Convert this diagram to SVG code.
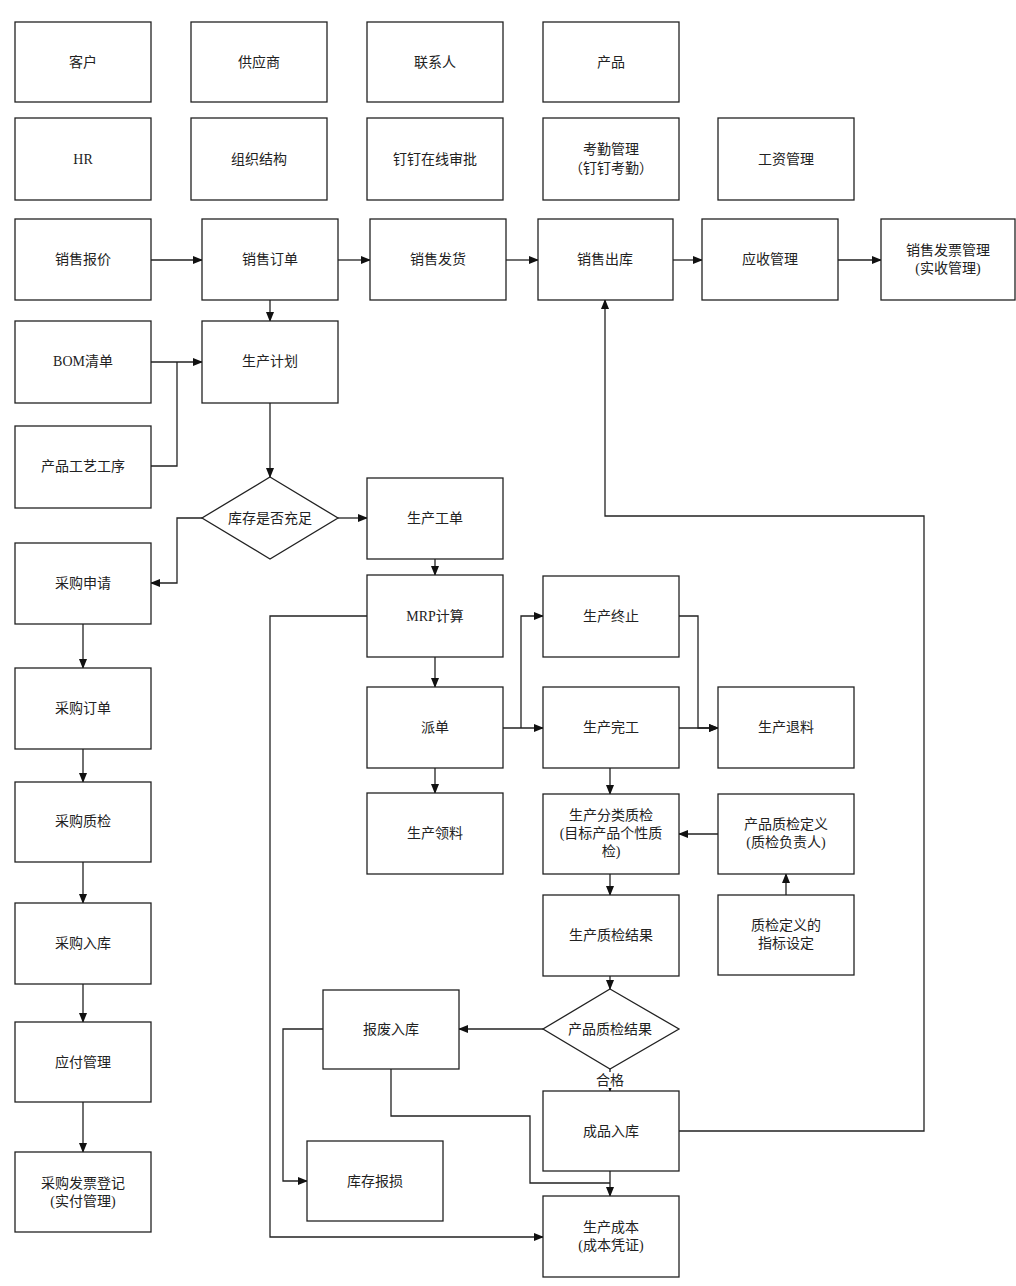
<svg xmlns="http://www.w3.org/2000/svg" width="1016" height="1286" viewBox="0 0 1016 1286">
<defs>
<marker id="a" markerWidth="10" markerHeight="8" refX="9" refY="4" orient="auto" markerUnits="userSpaceOnUse"><path d="M0,0 L10,4 L0,8 Z" fill="#111"/></marker>
<style>
rect,polygon{fill:#fff;stroke:#222;stroke-width:1.3}
text{font-family:"Liberation Serif","Noto Sans CJK SC",serif;font-size:14px;fill:#222;text-anchor:middle}
#c path{fill:none;stroke:#222;stroke-width:1.3}
.m{marker-end:url(#a)}
</style>
</defs>
<rect width="1016" height="1286" style="fill:#fff;stroke:none"/>
<g id="c">
<path class="m" d="M151,260H202"/><path class="m" d="M338,260H370"/><path class="m" d="M506,260H538"/><path class="m" d="M673,260H702"/><path class="m" d="M838,260H881"/>
<path class="m" d="M270,300V321"/>
<path class="m" d="M151,362H202"/>
<path d="M151,466H177V362"/>
<path class="m" d="M270,403V477"/>
<path class="m" d="M338,518H367"/>
<path class="m" d="M202,518H177V583H151"/>
<path class="m" d="M83,624V668"/><path class="m" d="M83,749V782"/><path class="m" d="M83,862V903"/><path class="m" d="M83,984V1022"/><path class="m" d="M83,1102V1152"/>
<path class="m" d="M435,559V575"/>
<path class="m" d="M367,616H270V1237H543"/>
<path class="m" d="M435,657V687"/>
<path class="m" d="M435,768V793"/>
<path class="m" d="M503,728H543"/>
<path class="m" d="M521,728V616H543"/>
<path class="m" d="M679,616H698V728H718"/>
<path class="m" d="M679,728H718"/>
<path class="m" d="M610,768V794"/>
<path class="m" d="M718,834H679"/>
<path class="m" d="M786,895V874"/>
<path class="m" d="M610,874V895"/>
<path class="m" d="M610,976V989"/>
<path class="m" d="M543,1029H459"/>
<path class="m" d="M610,1069V1091"/>
<path class="m" d="M679,1131H924V516H605V300"/>
<path class="m" d="M610,1171V1196"/>
<path d="M391,1069V1116H530V1183H610"/>
<path class="m" d="M323,1029H283V1181H307"/>
</g>
<g id="n1"><rect x="15" y="22" width="136" height="80"/><text x="83" y="67">客户</text></g>
<g id="n2"><rect x="191" y="22" width="136" height="80"/><text x="259" y="67">供应商</text></g>
<g id="n3"><rect x="367" y="22" width="136" height="80"/><text x="435" y="67">联系人</text></g>
<g id="n4"><rect x="543" y="22" width="136" height="80"/><text x="611" y="67">产品</text></g>
<g id="n5"><rect x="15" y="118" width="136" height="82"/><text x="83" y="164">HR</text></g>
<g id="n6"><rect x="191" y="118" width="136" height="82"/><text x="259" y="164">组织结构</text></g>
<g id="n7"><rect x="367" y="118" width="136" height="82"/><text x="435" y="164">钉钉在线审批</text></g>
<g id="n8"><rect x="543" y="118" width="136" height="82"/><text x="611" y="154">考勤管理</text><text x="611" y="173">（钉钉考勤）</text></g>
<g id="n9"><rect x="718" y="118" width="136" height="82"/><text x="786" y="164">工资管理</text></g>
<g id="n10"><rect x="15" y="219" width="136" height="81"/><text x="83" y="264">销售报价</text></g>
<g id="n11"><rect x="202" y="219" width="136" height="81"/><text x="270" y="264">销售订单</text></g>
<g id="n12"><rect x="370" y="219" width="136" height="81"/><text x="438" y="264">销售发货</text></g>
<g id="n13"><rect x="538" y="219" width="135" height="81"/><text x="605" y="264">销售出库</text></g>
<g id="n14"><rect x="702" y="219" width="136" height="81"/><text x="770" y="264">应收管理</text></g>
<g id="n15"><rect x="881" y="219" width="134" height="81"/><text x="948" y="255">销售发票管理</text><text x="948" y="273">(实收管理)</text></g>
<g id="n16"><rect x="15" y="321" width="136" height="82"/><text x="83" y="366">BOM清单</text></g>
<g id="n17"><rect x="202" y="321" width="136" height="82"/><text x="270" y="366">生产计划</text></g>
<g id="n18"><rect x="15" y="426" width="136" height="82"/><text x="83" y="471">产品工艺工序</text></g>
<g id="n19"><polygon points="270,477 338,518 270,559 202,518"/><text x="270" y="523">库存是否充足</text></g>
<g id="n20"><rect x="367" y="478" width="136" height="81"/><text x="435" y="523">生产工单</text></g>
<g id="n21"><rect x="15" y="543" width="136" height="81"/><text x="83" y="588">采购申请</text></g>
<g id="n22"><rect x="367" y="575" width="136" height="82"/><text x="435" y="621">MRP计算</text></g>
<g id="n23"><rect x="543" y="576" width="136" height="81"/><text x="611" y="621">生产终止</text></g>
<g id="n24"><rect x="15" y="668" width="136" height="81"/><text x="83" y="713">采购订单</text></g>
<g id="n25"><rect x="367" y="687" width="136" height="81"/><text x="435" y="732">派单</text></g>
<g id="n26"><rect x="543" y="687" width="136" height="81"/><text x="611" y="732">生产完工</text></g>
<g id="n27"><rect x="718" y="687" width="136" height="81"/><text x="786" y="732">生产退料</text></g>
<g id="n28"><rect x="15" y="782" width="136" height="80"/><text x="83" y="826">采购质检</text></g>
<g id="n29"><rect x="367" y="793" width="136" height="81"/><text x="435" y="838">生产领料</text></g>
<g id="n30"><rect x="543" y="794" width="136" height="80"/><text x="611" y="820">生产分类质检</text><text x="611" y="838">(目标产品个性质</text><text x="611" y="856">检)</text></g>
<g id="n31"><rect x="718" y="794" width="136" height="80"/><text x="786" y="829">产品质检定义</text><text x="786" y="847">(质检负责人)</text></g>
<g id="n32"><rect x="15" y="903" width="136" height="81"/><text x="83" y="948">采购入库</text></g>
<g id="n33"><rect x="543" y="895" width="136" height="81"/><text x="611" y="940">生产质检结果</text></g>
<g id="n34"><rect x="718" y="895" width="136" height="80"/><text x="786" y="930">质检定义的</text><text x="786" y="948">指标设定</text></g>
<g id="n35"><rect x="323" y="990" width="136" height="79"/><text x="391" y="1034">报废入库</text></g>
<g id="n36"><polygon points="610,989 679,1029 610,1069 543,1029"/><text x="610" y="1034">产品质检结果</text><rect x="594" y="1072" width="32" height="16" style="stroke:none"/><text x="610" y="1085">合格</text></g>
<g id="n37"><rect x="15" y="1022" width="136" height="80"/><text x="83" y="1067">应付管理</text></g>
<g id="n38"><rect x="543" y="1091" width="136" height="80"/><text x="611" y="1136">成品入库</text></g>
<g id="n39"><rect x="307" y="1141" width="136" height="80"/><text x="375" y="1186">库存报损</text></g>
<g id="n40"><rect x="15" y="1152" width="136" height="80"/><text x="83" y="1188">采购发票登记</text><text x="83" y="1206">(实付管理)</text></g>
<g id="n41"><rect x="543" y="1196" width="136" height="81"/><text x="611" y="1232">生产成本</text><text x="611" y="1250">(成本凭证)</text></g>
</svg>
